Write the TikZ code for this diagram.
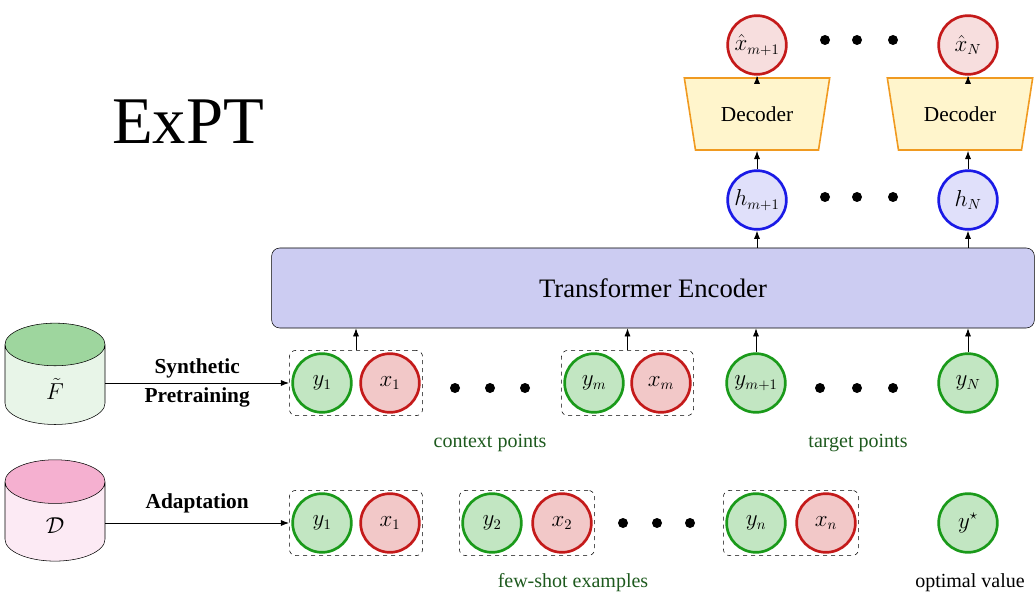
\documentclass[tikz,border=0pt]{standalone}
\usepackage{fontspec}
\setmainfont{Liberation Serif}
\usetikzlibrary{arrows.meta}
\usetikzlibrary{shapes.geometric}
\usetikzlibrary{fit}
\definecolor{ygreen}{HTML}{1A9A1A}
\definecolor{yfill}{HTML}{C2E6C2}
\definecolor{xred}{HTML}{C41A1A}
\definecolor{xfill}{HTML}{F2C8C8}
\definecolor{hblue}{HTML}{1A1AE6}
\definecolor{hfill}{HTML}{E0E0FA}
\definecolor{encfill}{HTML}{CCCCF2}
\definecolor{decfill}{HTML}{FFF5CC}
\definecolor{decline}{HTML}{F09A20}
\definecolor{txtgreen}{HTML}{1E5A1E}
\definecolor{fbody}{HTML}{E8F5E8}
\definecolor{ftop}{HTML}{9ED69E}
\definecolor{dbody}{HTML}{FCEAF4}
\definecolor{dtop}{HTML}{F5B0D0}
\tikzset{dot/.style={circle, fill=black, inner sep=0pt, minimum size=7.5pt}}
\begin{document}
\begin{tikzpicture}[x=0.75pt, y=-0.75pt,
                    var/.style={circle, line width=2pt, minimum size=44pt, inner sep=0pt, font=\fontsize{16}{18}\selectfont},
                    yvar/.style={var, draw=ygreen, fill=yfill},
                    xvar/.style={var, draw=xred, fill=xfill},
                    hvar/.style={var, draw=hblue, fill=hfill},
                    xhat/.style={var, draw=xred, fill=xfill!60},
                    group/.style={draw, dashed, rounded corners=5pt, inner sep=1.5pt},
                    decoder/.style={trapezium, trapezium stretches body, shape border rotate=180, trapezium angle=65, minimum width=109pt, minimum height=54pt, fill=decfill, draw=decline, line width=1.2pt, font=\fontsize{16}{18}\selectfont},
                    db/.style={cylinder, shape border rotate=90, draw, minimum width=75pt, minimum height=76pt, aspect=1.6, cylinder uses custom fill, font=\fontsize{16}{18}\selectfont},
                    lbl/.style={font=\fontsize{15}{17}\selectfont},
                    bl/.style={font=\bfseries\fontsize{16}{18}\selectfont},
                    arr/.style={-Latex, line width=0.7pt}]
    \useasboundingbox (0,0) rectangle (1036,599);

    \node[font=\fontsize{50}{52}\selectfont] (title) at (188,122) {ExPT};

    % databases
    \node[db, cylinder body fill=fbody, cylinder end fill=ftop] (dbF) at (55,389) {$\tilde{F}$};
    \node[db, cylinder body fill=dbody, cylinder end fill=dtop] (dbD) at (55,526) {$\mathcal{D}$};

    % context row
    \node[yvar] (cy1) at (322,383) {$y_1$};
    \node[xvar] (cx1) at (390,383) {$x_1$};
    \node[group, fit=(cy1) (cx1)] (cg1) {};
    \node[dot] (cd1) at (455,388) {};
    \node[dot] (cd2) at (490,388) {};
    \node[dot] (cd3) at (525,388) {};
    \node[yvar] (cym) at (594,383) {$y_m$};
    \node[xvar] (cxm) at (661,383) {$x_m$};
    \node[group, fit=(cym) (cxm)] (cgm) {};
    \node[yvar] (tym1) at (756,383) {$y_{m+1}$};
    \node[dot] (td1) at (820,388) {};
    \node[dot] (td2) at (857,388) {};
    \node[dot] (td3) at (893,388) {};
    \node[yvar] (tyN) at (968,383) {$y_N$};
    \node[lbl, text=txtgreen] (ctx) at (490,443) {context points};
    \node[lbl, text=txtgreen] (tgt) at (858,443) {target points};

    % encoder
    \node[draw, fill=encfill, rounded corners=6pt, minimum width=572pt, minimum height=60pt, font=\fontsize{20}{22}\selectfont] (enc) at (653,288) {Transformer Encoder};

    % latents and decoders
    \node[hvar] (hm1) at (757,200) {$h_{m+1}$};
    \node[dot] (hd1) at (825,197) {};
    \node[dot] (hd2) at (857,197) {};
    \node[dot] (hd3) at (893,197) {};
    \node[hvar] (hN) at (968,200) {$h_N$};
    \node[decoder] (dec1) at (757,114) {Decoder};
    \node[decoder] (dec2) at (960,114) {Decoder};
    \node[xhat] (xm1) at (757,45) {$\hat{x}_{m+1}$};
    \node[dot] (xd1) at (825,40) {};
    \node[dot] (xd2) at (857,40) {};
    \node[dot] (xd3) at (893,40) {};
    \node[xhat] (xN) at (968,45) {$\hat{x}_N$};

    % few-shot row
    \node[yvar] (ay1) at (322,523) {$y_1$};
    \node[xvar] (ax1) at (390,523) {$x_1$};
    \node[group, fit=(ay1) (ax1)] (ag1) {};
    \node[yvar] (ay2) at (492,523) {$y_2$};
    \node[xvar] (ax2) at (562,523) {$x_2$};
    \node[group, fit=(ay2) (ax2)] (ag2) {};
    \node[dot] (ad1) at (623,523) {};
    \node[dot] (ad2) at (657,523) {};
    \node[dot] (ad3) at (690,523) {};
    \node[yvar] (ayn) at (756,523) {$y_n$};
    \node[xvar] (axn) at (826,523) {$x_n$};
    \node[group, fit=(ayn) (axn)] (agn) {};
    \node[yvar] (ystar) at (968,523) {$y^\star$};
    \node[lbl, text=txtgreen] (few) at (573,583) {few-shot examples};
    \node[lbl] (opt) at (970,583) {optimal value};

    % arrows from databases
    \draw[arr] (dbF.east |- cg1.west) -- node[above, bl] {Synthetic} node[below, bl] {Pretraining} (cg1.west);
    \draw[arr] (dbD.east |- ag1.west) -- node[above, yshift=4pt, bl] {Adaptation} (ag1.west);

    % into encoder
    \draw[arr] (cg1.north) -- (cg1.north |- enc.south);
    \draw[arr] (cgm.north) -- (cgm.north |- enc.south);
    \draw[arr] (tym1.north) -- (tym1.north |- enc.south);
    \draw[arr] (tyN.north) -- (tyN.north |- enc.south);

    % out of encoder
    \draw[arr] (hm1.south |- enc.north) -- (hm1.south);
    \draw[arr] (hN.south |- enc.north) -- (hN.south);
    \draw[arr] (hm1) -- (hm1 |- dec1.south);
    \draw[arr] (hN) -- (hN |- dec2.south);
    \draw[arr] (hm1 |- dec1.north) -- (xm1);
    \draw[arr] (hN |- dec2.north) -- (xN);
\end{tikzpicture}
\end{document}
